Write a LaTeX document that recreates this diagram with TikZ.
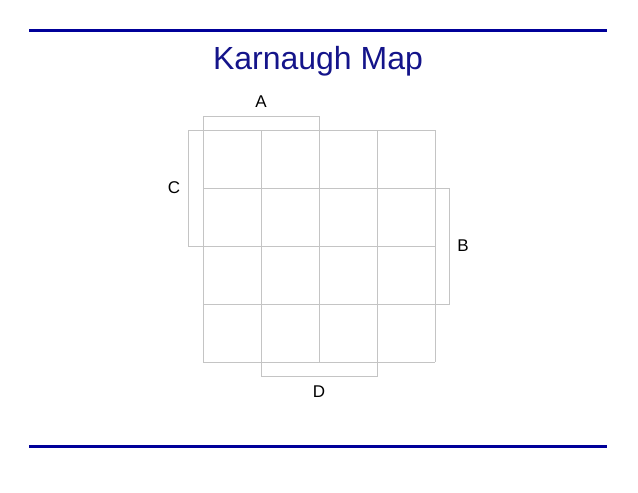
\documentclass[tikz,border=0pt]{standalone}
\usepackage{fontspec}
\setmainfont{Liberation Sans}
\definecolor{rulebl}{HTML}{000099}
\definecolor{titlebl}{HTML}{14148A}
\definecolor{gridgr}{HTML}{C4C4C4}
\begin{document}
\begin{tikzpicture}[x=1pt,y=-1pt,
  rulel/.style={draw=rulebl,line width=3pt},
  gridl/.style={draw=gridgr,line width=0.9pt},
  lbl/.style={font=\fontsize{17}{20}\selectfont,text=black,inner sep=0pt}]
\useasboundingbox (0,0) rectangle (638,493);
\draw[rulel] (29,30) -- (607,30);
\draw[rulel] (29,446) -- (607,446);
\node[font=\fontsize{32}{36}\selectfont,text=titlebl] (title) at (318,61) {Karnaugh Map};
% grid
\foreach \i in {0,...,4}{
  \draw[gridl] (203+58*\i,130) -- (203+58*\i,362);
  \draw[gridl] (203,130+58*\i) -- (435,130+58*\i);
}
% brackets
\draw[gridl] (203,130) -- (203,116) -- (319,116) -- (319,130);
\draw[gridl] (203,130) -- (188,130) -- (188,246) -- (203,246);
\draw[gridl] (435,188) -- (449,188) -- (449,304) -- (435,304);
\draw[gridl] (261,362) -- (261,376) -- (377,376) -- (377,362);
\node[lbl] (A) at (261,102) {A};
\node[lbl] (C) at (174,188) {C};
\node[lbl] (B) at (463,246) {B};
\node[lbl] (D) at (319,392) {D};
\end{tikzpicture}
\end{document}
